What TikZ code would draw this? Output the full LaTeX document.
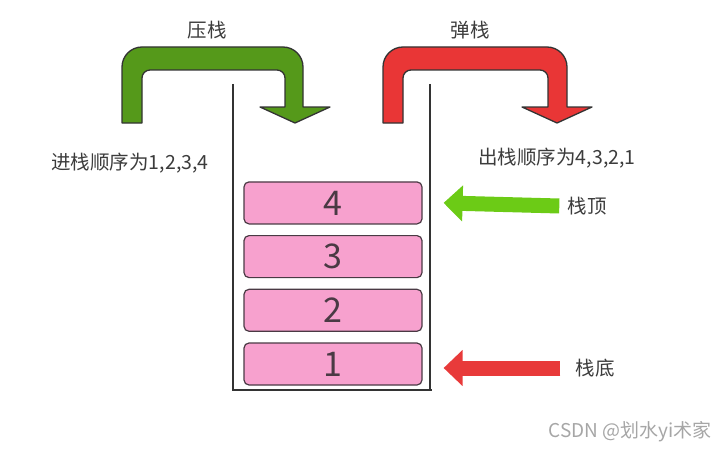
\documentclass[tikz,border=0pt]{standalone}
\usepackage{fontspec}
\setmainfont{Noto Sans CJK SC}
\usepackage{xcolor}
\usepackage{tikz}
\usetikzlibrary{positioning, arrows.meta}
\definecolor{cellpink}{HTML}{F7A1CE}
\definecolor{celledge}{HTML}{4A3A44}
\definecolor{pushgreen}{HTML}{55991A}
\definecolor{popred}{HTML}{E93636}
\definecolor{topgreen}{HTML}{6CCB16}
\definecolor{bottomred}{HTML}{E83A3A}
\definecolor{txtgray}{HTML}{3C3C3C}
\definecolor{wallgray}{HTML}{333333}

\begin{document}
\begin{tikzpicture}[
  x=1pt, y=-1pt,
  node distance=10.5pt,
  cell/.style={rectangle, draw=celledge, line width=1.2pt, fill=cellpink, rounded corners=5pt, minimum width=178pt, minimum height=42pt, inner sep=0pt, font=\fontsize{34pt}{36pt}\selectfont, text=celledge},
  lbl/.style={inner sep=0pt, text=txtgray, font=\fontsize{19.5pt}{21pt}\selectfont},
  wall/.style={draw=wallgray, line width=1.5pt},
  bent/.style={draw=wallgray, line width=1.3pt, line join=round},
  fatarrow/.style={line width=15pt, -{Triangle[length=19pt, width=35pt]}}
]
\useasboundingbox (0,0) rectangle (726,452);

% Stack container
\coordinate (tl) at (233,84);
\coordinate (bl) at (233,390);
\coordinate (br) at (432,390);
\coordinate (tr) at (430,84);
\draw[wall] (tl) -- (bl) -- (br);
\draw[wall] (tr) -- (tr |- bl);

% Stack cells
\node[cell] (c1) at (333,364) {1};
\node[cell, above=of c1] (c2) {2};
\node[cell, above=of c2] (c3) {3};
\node[cell, above=of c3] (c4) {4};

% Push / pop arrows
\filldraw[bent, fill=pushgreen] (122,123) [rounded corners=20pt] -- (122,47) -- (303,47) [sharp corners] -- (303,107) -- (330,107) -- (295,123) -- (260,107) -- (285,107) [rounded corners=8pt] -- (285,70) -- (142,70) [sharp corners] -- (142,123) -- cycle;
\filldraw[bent, fill=popred] (383,123) [rounded corners=20pt] -- (383,47) -- (567,47) [sharp corners] -- (567,107) -- (592,107) -- (557,123) -- (522,107) -- (548,107) [rounded corners=8pt] -- (548,70) -- (403,70) [sharp corners] -- (403,123) -- cycle;
\node[lbl] (push) at (207,30) {压栈};
\node[lbl] (pop) at (470,30) {弹栈};

% Order texts
\node[lbl] (pushorder) at (130,163) {进栈顺序为1,2,3,4};
\node[lbl] (poporder) at (557,158) {出栈顺序为4,3,2,1};

% Top / bottom pointers
\node[lbl] (stacktop) at (587,206) {栈顶};
\node[lbl] (stackbottom) at (595,368) {栈底};
\draw[fatarrow, topgreen] ([xshift=-8pt]stacktop.west) -- ([xshift=21pt]c4.east);
\draw[fatarrow, bottomred] ([xshift=-15pt]stackbottom.west) -- ([xshift=21pt, yshift=-4pt]c1.east);

% Watermark
\node[lbl, text=gray!70, font=\fontsize{19pt}{21pt}\selectfont] (mark) at (630,432) {CSDN @划水yi术家};
\end{tikzpicture}
\end{document}
